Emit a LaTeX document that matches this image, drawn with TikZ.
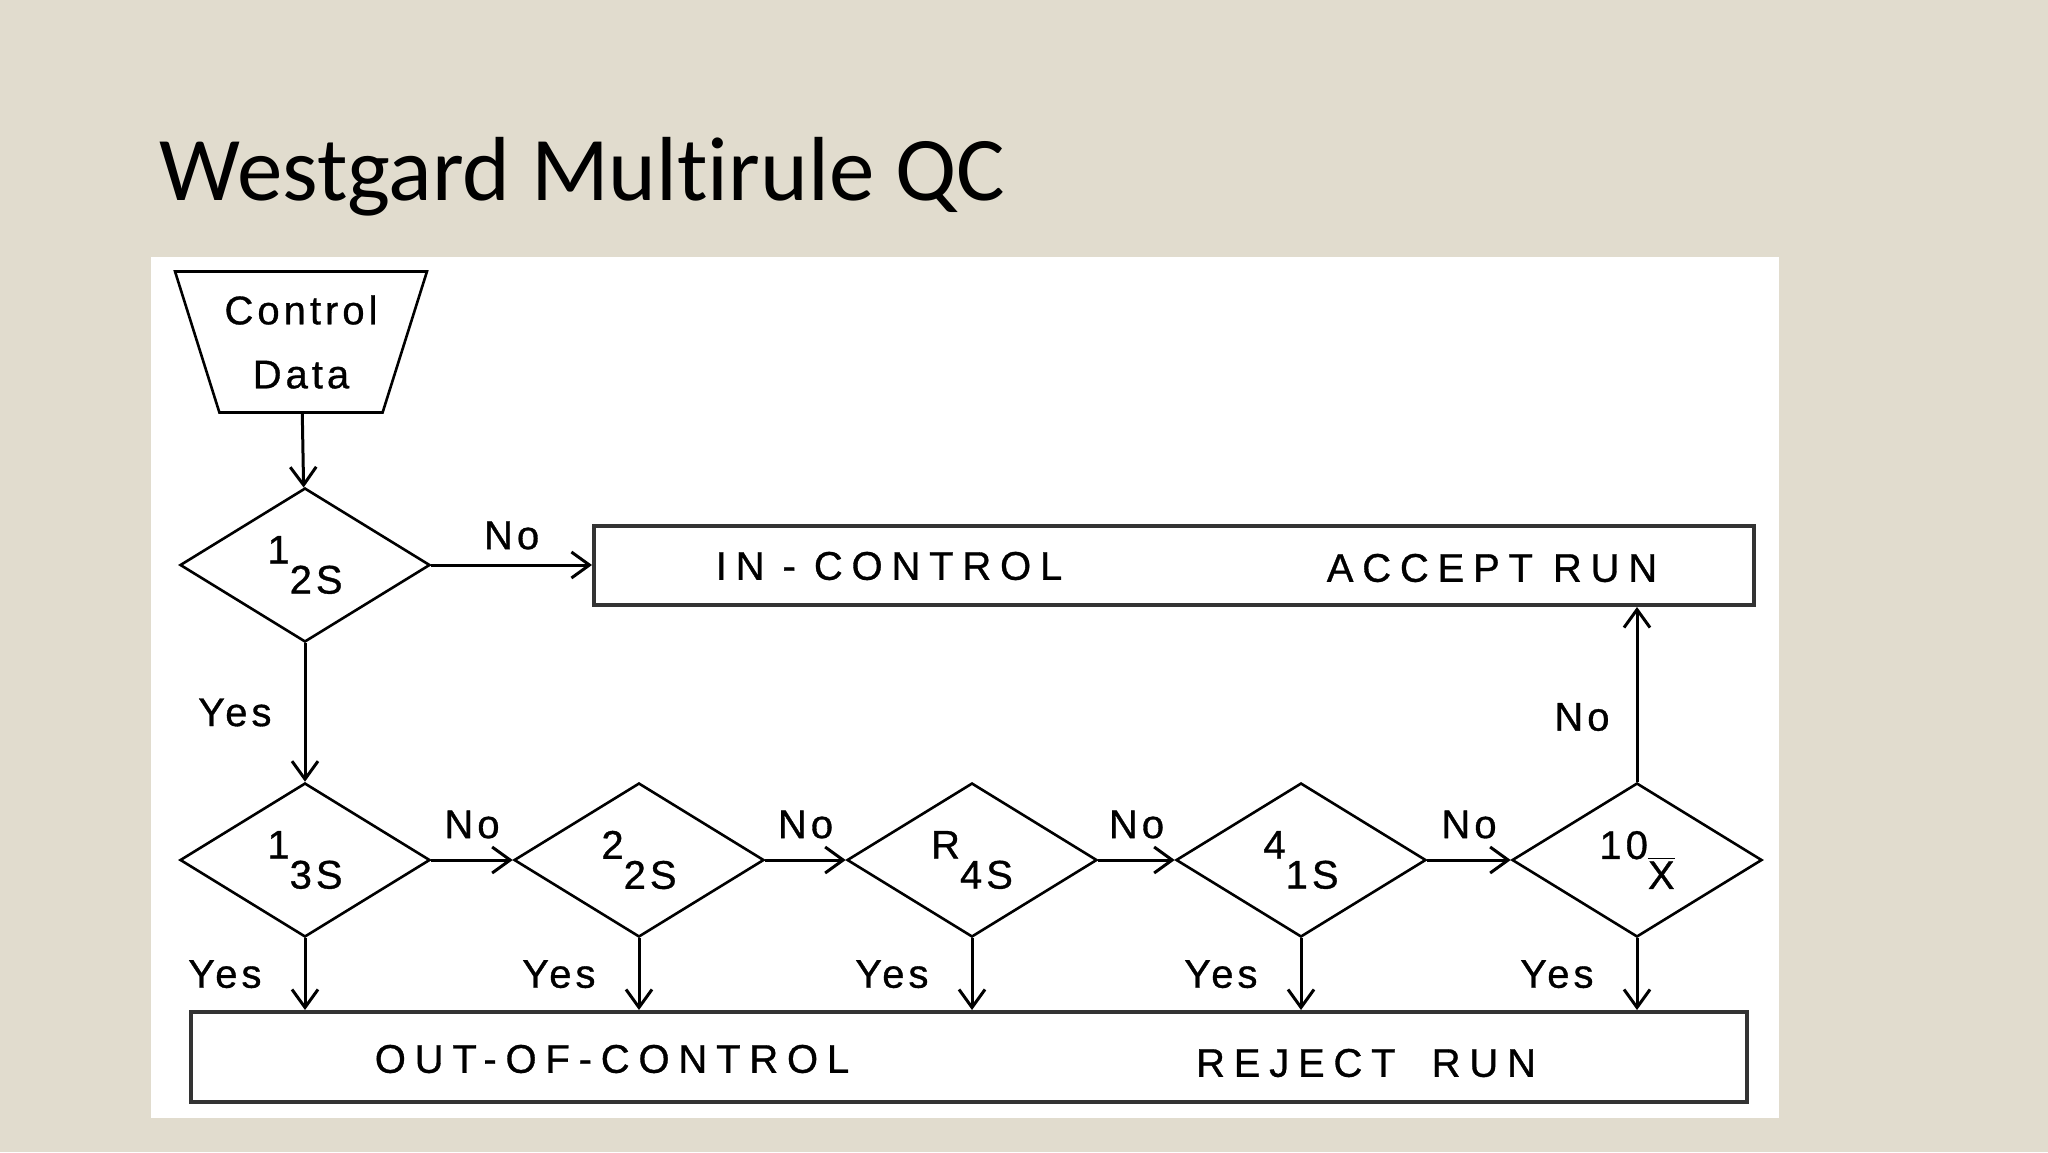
\documentclass[tikz,border=0pt]{standalone}
\usepackage{fontspec}
\usetikzlibrary{positioning,shapes.geometric,arrows.meta}

\newfontfamily\titlefont[Ligatures=NoCommon]{Carlito}
\newfontfamily\chartfont[LetterSpace=10,FakeBold=0.8]{Liberation Sans}
\newfontfamily\boxfont[LetterSpace=22,FakeBold=0.8]{Liberation Sans}
\definecolor{slide}{RGB}{225,220,206}
\newcommand{\rulename}[2]{#1\raisebox{-0.75em}{#2}}

\begin{document}
\begin{tikzpicture}[x=0.5pt, y=-0.5pt, line width=1.5pt,
  >={Straight Barb[length=9pt,width=13pt]},
  dec/.style={diamond, draw, line width=1.3pt, minimum width=125pt, minimum height=77pt,
    inner sep=0pt, font=\chartfont\fontsize{20}{24}\selectfont},
  bigbox/.style={draw=black!80, line width=2pt, inner sep=0pt},
  lab/.style={font=\chartfont\fontsize{20}{24}\selectfont, inner sep=1pt},
  boxlab/.style={font=\boxfont\fontsize{20}{24}\selectfont, inner sep=0pt}]

% slide
\fill[slide] (0,0) rectangle (2048,1152);
\useasboundingbox (0,0) rectangle (2048,1152);
\fill[white] (151,257) rectangle (1779,1118);

% title
\node[anchor=base west, inner sep=0pt, font=\titlefont\fontsize{45.5}{50}\selectfont] (title) at (158,200) {Westgard Multirule QC};

% input
\node[trapezium, shape border rotate=180, trapezium left angle=66, trapezium right angle=66,
  trapezium stretches=true, draw, line width=1.3pt, minimum width=126pt, minimum height=70.5pt,
  inner sep=0pt, align=center, font=\chartfont\fontsize{20}{32}\selectfont] (data) at (301,342) {Control\\Data};

% rules
\node[dec] (d12s) at (305,565) {\rulename{1}{2S}};
\node[dec] (d13s) at (305,860) {\rulename{1}{3S}};
\node[dec] (d22s) at (639,860) {\rulename{2}{2S}};
\node[dec] (dr4s) at (972,860) {\rulename{R}{4S}};
\node[dec] (d41s) at (1301,860) {\rulename{4}{1S}};
\node[dec] (d10x) at (1637,860) {\rulename{10}{$\overline{\hbox{X}}$}};

% results
\node[bigbox, minimum width=580pt, minimum height=39.5pt] (inbox) at (1174,565.5) {};
\node[bigbox, minimum width=778pt, minimum height=45pt] (outbox) at (969,1057) {};
\node[boxlab] (inlab) at (889,566) {IN\hspace{9pt}-\hspace{9pt}CONTROL};
\node[boxlab] (acclab) at (1492,568) {ACCEPT RUN};
\node[boxlab] (outlab) at (612,1059) {OUT-OF-CONTROL};
\node[boxlab] (rejlab) at (1366,1063) {REJECT\hspace{18pt}RUN};

% arrows
\draw[->] (data) -- (d12s);
\draw[->] (d12s.east) -- node[lab, above=6pt] (no12) {No} (d12s.east -| inbox.west);
\draw[->] (d12s) -- node[lab, left=15pt] (yes12) {Yes} (d13s);
\foreach \a/\b in {d13s/d22s, d22s/dr4s, dr4s/d41s, d41s/d10x}
  \draw[->] (\a.east) -- node[lab, above=9pt] (no-\a) {No} (\b.west);
\foreach \a in {d13s, d22s, dr4s, d41s, d10x}
  \draw[->] (\a.south) -- node[lab, left=20pt] (yes-\a) {Yes} (\a.south |- outbox.north);
\draw[->] (d10x.north) -- node[lab, pos=0.37, left=12pt] (no10x) {No} (d10x.north |- inbox.south);

\end{tikzpicture}
\end{document}
